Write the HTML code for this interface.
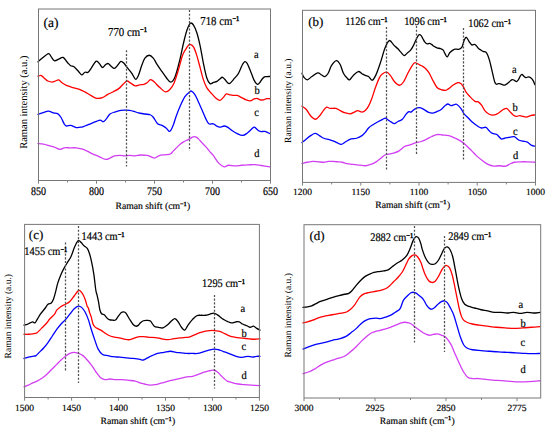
<!DOCTYPE html>
<html><head><meta charset="utf-8"><style>
html,body{margin:0;padding:0;background:#fff;}
svg{display:block;}
text{font-family:"Liberation Serif",serif;fill:#000;text-rendering:geometricPrecision;}
</style></head><body>
<svg width="550" height="431" viewBox="0 0 550 431">
<rect x="0" y="0" width="550" height="431" fill="#fff"/>

<path d="M38.00,61.80 C38.73,61.18 40.62,59.44 42.36,58.09 C44.11,56.75 47.02,53.98 48.47,53.73 C49.93,53.47 50.11,55.40 51.09,56.56 C52.07,57.73 53.09,60.27 54.36,60.71 C55.64,61.15 57.27,59.73 58.73,59.18 C60.18,58.64 61.64,56.89 63.09,57.44 C64.55,57.98 66.18,61.07 67.45,62.45 C68.73,63.84 69.64,65.00 70.73,65.73 C71.82,66.45 72.73,65.91 74.00,66.82 C75.27,67.73 77.09,69.84 78.36,71.18 C79.64,72.53 80.55,74.71 81.64,74.89 C82.73,75.07 83.82,72.71 84.91,72.27 C86.00,71.84 87.09,73.00 88.18,72.27 C89.27,71.55 90.18,69.73 91.45,67.91 C92.73,66.09 94.55,62.16 95.82,61.36 C97.09,60.56 98.00,62.09 99.09,63.11 C100.18,64.13 101.27,67.22 102.36,67.47 C103.45,67.73 104.65,65.29 105.64,64.64 C106.62,63.98 107.35,63.29 108.25,63.55 C109.16,63.80 110.07,65.36 111.09,66.16 C112.11,66.96 113.27,68.49 114.36,68.35 C115.45,68.20 116.55,66.45 117.64,65.29 C118.73,64.13 119.82,61.65 120.91,61.36 C122.00,61.07 123.09,62.45 124.18,63.55 C125.27,64.64 126.18,66.27 127.45,67.91 C128.73,69.55 130.47,71.47 131.82,73.36 C133.16,75.25 134.44,78.89 135.53,79.25 C136.62,79.62 137.35,77.80 138.36,75.55 C139.38,73.29 140.55,68.64 141.64,65.73 C142.73,62.82 143.64,59.84 144.91,58.09 C146.18,56.35 147.88,55.25 149.27,55.25 C150.67,55.25 152.06,56.71 153.27,58.09 C154.48,59.47 155.27,61.55 156.55,63.55 C157.82,65.55 159.27,67.73 160.91,70.09 C162.55,72.45 164.73,75.73 166.36,77.73 C168.00,79.73 169.27,82.27 170.73,82.09 C172.18,81.91 173.64,80.09 175.09,76.64 C176.55,73.18 178.00,67.18 179.45,61.36 C180.91,55.55 182.55,47.00 183.82,41.73 C185.09,36.45 186.00,32.82 187.09,29.73 C188.18,26.64 189.27,23.91 190.36,23.18 C191.45,22.45 192.55,23.73 193.64,25.36 C194.73,27.00 195.82,29.55 196.91,33.00 C198.00,36.45 199.09,41.00 200.18,46.09 C201.27,51.18 202.36,58.27 203.45,63.55 C204.55,68.82 205.64,74.38 206.73,77.73 C207.82,81.08 208.87,82.85 210.00,83.64 C211.13,84.44 212.32,82.87 213.48,82.48 C214.64,82.10 215.90,81.90 216.96,81.32 C218.02,80.74 218.99,79.68 219.86,79.00 C220.73,78.33 221.41,77.26 222.18,77.26 C222.95,77.26 223.73,78.23 224.50,79.00 C225.27,79.78 226.05,81.13 226.82,81.90 C227.59,82.68 228.37,83.64 229.14,83.64 C229.91,83.64 230.59,82.77 231.46,81.90 C232.33,81.03 233.30,79.68 234.36,78.42 C235.43,77.17 236.88,75.81 237.84,74.36 C238.81,72.91 239.39,71.37 240.16,69.72 C240.94,68.08 241.71,65.85 242.48,64.50 C243.26,63.15 244.03,61.79 244.80,61.60 C245.58,61.41 246.35,62.18 247.12,63.34 C247.90,64.50 248.67,66.72 249.44,68.56 C250.22,70.40 250.99,72.43 251.76,74.36 C252.54,76.30 253.31,78.62 254.08,80.16 C254.86,81.71 255.73,82.97 256.40,83.64 C257.08,84.32 257.56,84.42 258.14,84.22 C258.72,84.03 259.21,83.35 259.88,82.48 C260.56,81.61 261.43,79.93 262.20,79.00 C262.98,78.07 263.75,77.30 264.52,76.91 C265.30,76.53 265.94,76.76 266.84,76.68 C267.75,76.60 269.45,76.49 269.98,76.45" fill="none" stroke="#000" stroke-width="1.30" stroke-linejoin="round" stroke-linecap="round"/>
<path d="M38.00,76.20 C38.55,76.09 40.18,75.18 41.27,75.55 C42.36,75.91 43.45,77.47 44.55,78.38 C45.64,79.29 46.55,80.38 47.82,81.00 C49.09,81.62 50.91,82.09 52.18,82.09 C53.45,82.09 54.36,81.36 55.45,81.00 C56.55,80.64 57.64,79.62 58.73,79.91 C59.82,80.20 60.73,81.84 62.00,82.75 C63.27,83.65 64.55,84.56 66.36,85.36 C68.18,86.16 70.73,86.89 72.91,87.55 C75.09,88.20 77.45,88.56 79.45,89.29 C81.45,90.02 83.09,90.93 84.91,91.91 C86.73,92.89 88.44,94.12 90.36,95.18 C92.29,96.25 94.47,97.88 96.47,98.29 C98.47,98.70 100.47,98.29 102.36,97.64 C104.25,96.98 106.00,95.35 107.82,94.36 C109.64,93.38 111.45,92.70 113.27,91.75 C115.09,90.79 117.09,89.88 118.73,88.64 C120.36,87.39 121.71,85.55 123.09,84.27 C124.47,83.00 125.75,81.18 127.02,81.00 C128.29,80.82 129.38,82.38 130.73,83.18 C132.07,83.98 133.64,85.51 135.09,85.80 C136.55,86.09 138.00,85.18 139.45,84.93 C140.91,84.67 142.55,84.64 143.82,84.27 C145.09,83.91 146.06,83.47 147.09,82.75 C148.12,82.02 149.27,80.38 150.00,79.91 C150.73,79.44 150.73,79.55 151.45,79.91 C152.18,80.27 152.97,80.82 154.36,82.09 C155.76,83.36 158.00,85.91 159.82,87.55 C161.64,89.18 163.64,91.55 165.27,91.91 C166.91,92.27 168.18,91.18 169.64,89.73 C171.09,88.27 172.55,86.45 174.00,83.18 C175.45,79.91 176.91,74.82 178.36,70.09 C179.82,65.36 181.27,58.64 182.73,54.82 C184.18,51.00 185.89,48.93 187.09,47.18 C188.29,45.44 188.84,44.35 189.93,44.35 C191.02,44.35 192.47,45.25 193.64,47.18 C194.80,49.11 195.82,52.45 196.91,55.91 C198.00,59.36 199.09,63.91 200.18,67.91 C201.27,71.91 202.36,76.64 203.45,79.91 C204.55,83.18 205.45,85.36 206.73,87.55 C208.00,89.73 209.64,91.32 211.09,93.00 C212.55,94.68 214.00,96.39 215.45,97.64 C216.91,98.88 218.55,100.47 219.82,100.47 C221.09,100.47 222.00,98.73 223.09,97.64 C224.18,96.55 225.27,94.40 226.36,93.93 C227.45,93.45 228.55,94.55 229.64,94.80 C230.73,95.05 231.64,95.35 232.91,95.45 C234.18,95.56 235.82,95.09 237.27,95.45 C238.73,95.82 240.18,96.91 241.64,97.64 C243.09,98.36 244.55,99.27 246.00,99.82 C247.45,100.36 249.09,101.02 250.36,100.91 C251.64,100.80 252.55,99.60 253.64,99.16 C254.73,98.73 255.82,98.18 256.91,98.29 C258.00,98.40 259.09,99.56 260.18,99.82 C261.27,100.07 262.36,100.00 263.45,99.82 C264.55,99.64 265.64,98.91 266.73,98.73 C267.82,98.55 269.45,98.73 270.00,98.73" fill="none" stroke="#ff0000" stroke-width="1.30" stroke-linejoin="round" stroke-linecap="round"/>
<path d="M38.00,114.44 C38.73,114.18 40.62,113.45 42.36,112.91 C44.11,112.36 46.65,111.16 48.47,111.16 C50.29,111.16 51.75,112.51 53.27,112.91 C54.80,113.31 56.36,112.84 57.64,113.56 C58.91,114.29 59.82,115.56 60.91,117.27 C62.00,118.98 63.27,122.36 64.18,123.82 C65.09,125.27 65.27,125.75 66.36,126.00 C67.45,126.25 69.09,125.09 70.73,125.35 C72.36,125.60 74.36,127.24 76.18,127.53 C78.00,127.82 80.18,127.35 81.64,127.09 C83.09,126.84 83.45,126.55 84.91,126.00 C86.36,125.45 88.55,124.55 90.36,123.82 C92.18,123.09 94.18,122.25 95.82,121.64 C97.45,121.02 98.91,120.11 100.18,120.11 C101.45,120.11 102.36,121.93 103.45,121.64 C104.55,121.35 105.64,119.64 106.73,118.36 C107.82,117.09 108.55,115.09 110.00,114.00 C111.45,112.91 113.64,112.44 115.45,111.82 C117.27,111.20 119.27,110.58 120.91,110.29 C122.55,110.00 123.82,110.07 125.27,110.07 C126.73,110.07 128.18,110.07 129.64,110.29 C131.09,110.51 132.55,110.95 134.00,111.38 C135.45,111.82 136.55,112.47 138.36,112.91 C140.18,113.35 142.94,113.69 144.91,114.00 C146.88,114.31 148.79,114.22 150.18,114.76 C151.58,115.31 152.03,115.76 153.27,117.27 C154.52,118.78 156.18,122.47 157.64,123.82 C159.09,125.16 160.55,124.62 162.00,125.35 C163.45,126.07 165.09,127.16 166.36,128.18 C167.64,129.20 168.55,131.82 169.64,131.45 C170.73,131.09 171.82,128.55 172.91,126.00 C174.00,123.45 174.91,119.64 176.18,116.18 C177.45,112.73 179.09,108.55 180.55,105.27 C182.00,102.00 183.45,98.73 184.91,96.55 C186.36,94.36 188.18,93.09 189.27,92.18 C190.36,91.27 190.55,90.73 191.45,91.09 C192.36,91.45 193.64,92.73 194.73,94.36 C195.82,96.00 196.73,98.18 198.00,100.91 C199.27,103.64 201.09,107.82 202.36,110.73 C203.64,113.64 204.55,116.18 205.64,118.36 C206.73,120.55 207.64,122.91 208.91,123.82 C210.18,124.73 212.00,123.45 213.27,123.82 C214.55,124.18 215.45,125.45 216.55,126.00 C217.64,126.55 218.55,127.09 219.82,127.09 C221.09,127.09 222.91,126.00 224.18,126.00 C225.45,126.00 226.18,126.36 227.45,127.09 C228.73,127.82 230.18,129.27 231.82,130.36 C233.45,131.45 235.45,132.80 237.27,133.64 C239.09,134.47 241.09,135.45 242.73,135.38 C244.36,135.31 245.64,134.22 247.09,133.20 C248.55,132.18 250.25,130.29 251.45,129.27 C252.65,128.25 253.38,127.09 254.29,127.09 C255.20,127.09 255.93,128.55 256.91,129.27 C257.89,130.00 258.91,131.09 260.18,131.45 C261.45,131.82 263.27,131.27 264.55,131.45 C265.82,131.64 266.91,132.18 267.82,132.55 C268.73,132.91 269.64,133.45 270.00,133.64" fill="none" stroke="#0000ff" stroke-width="1.30" stroke-linejoin="round" stroke-linecap="round"/>
<path d="M38.00,143.45 C38.91,143.56 41.64,143.75 43.45,144.11 C45.27,144.47 47.09,145.13 48.91,145.64 C50.73,146.15 52.55,146.55 54.36,147.16 C56.18,147.78 58.18,149.24 59.82,149.35 C61.45,149.45 62.55,148.07 64.18,147.82 C65.82,147.56 67.64,147.82 69.64,147.82 C71.64,147.82 74.18,147.64 76.18,147.82 C78.18,148.00 79.82,148.36 81.64,148.91 C83.45,149.45 85.27,150.25 87.09,151.09 C88.91,151.93 90.55,153.02 92.55,153.93 C94.55,154.84 96.91,155.64 99.09,156.55 C101.27,157.45 103.82,159.13 105.64,159.38 C107.45,159.64 108.55,158.65 110.00,158.07 C111.45,157.49 112.73,156.33 114.36,155.89 C116.00,155.45 118.00,155.45 119.82,155.45 C121.64,155.45 123.64,155.89 125.27,155.89 C126.91,155.89 128.00,155.45 129.64,155.45 C131.27,155.45 133.27,155.96 135.09,155.89 C136.91,155.82 138.55,155.09 140.55,155.02 C142.55,154.95 145.52,155.24 147.09,155.45 C148.67,155.67 149.13,155.98 150.00,156.32 C150.87,156.66 151.55,157.19 152.32,157.48 C153.09,157.77 153.87,158.16 154.64,158.06 C155.41,157.97 156.19,157.31 156.96,156.90 C157.73,156.50 158.31,155.96 159.28,155.63 C160.25,155.30 161.60,155.09 162.76,154.93 C163.92,154.78 164.98,154.85 166.24,154.70 C167.50,154.54 169.14,154.60 170.30,154.00 C171.46,153.40 172.14,152.17 173.20,151.10 C174.27,150.04 175.52,148.78 176.68,147.62 C177.84,146.46 179.00,145.11 180.16,144.14 C181.32,143.17 182.48,142.50 183.64,141.82 C184.80,141.14 186.06,140.60 187.12,140.08 C188.19,139.56 189.15,139.17 190.02,138.69 C190.89,138.21 191.67,137.53 192.34,137.18 C193.02,136.83 193.41,136.60 194.08,136.60 C194.76,136.60 195.63,136.76 196.40,137.18 C197.18,137.61 197.85,138.28 198.72,139.15 C199.59,140.02 200.56,141.28 201.62,142.40 C202.69,143.52 204.04,144.72 205.10,145.88 C206.17,147.04 207.19,148.36 208.00,149.36 C208.82,150.37 209.10,150.90 209.98,151.91 C210.85,152.93 211.81,153.59 213.27,155.45 C214.73,157.32 216.91,161.20 218.73,163.09 C220.55,164.98 222.55,166.44 224.18,166.80 C225.82,167.16 226.73,165.42 228.55,165.27 C230.36,165.13 232.91,165.93 235.09,165.93 C237.27,165.93 239.45,165.45 241.64,165.27 C243.82,165.09 246.00,164.95 248.18,164.84 C250.36,164.73 252.55,164.51 254.73,164.62 C256.91,164.73 258.73,165.13 261.27,165.49 C263.82,165.85 268.55,166.58 270.00,166.80" fill="none" stroke="#d23ef2" stroke-width="1.30" stroke-linejoin="round" stroke-linecap="round"/>
<line x1="126.5" y1="50.2" x2="126.5" y2="166.4" stroke="#505050" stroke-width="1.25" stroke-dasharray="2.1,1.6"/>
<line x1="189.5" y1="10.0" x2="189.5" y2="150.7" stroke="#505050" stroke-width="1.25" stroke-dasharray="2.1,1.6"/>
<rect x="38.5" y="9.0" width="232.0" height="171.5" fill="none" stroke="#777" stroke-width="1"/>
<line x1="38.5" y1="180.5" x2="38.5" y2="183.7" stroke="#808080" stroke-width="1"/>
<text transform="translate(38.50,194.70) scale(1,1.160)" font-size="10.00" text-anchor="middle" stroke="#000" stroke-width="0.18" >850</text>
<line x1="96.5" y1="180.5" x2="96.5" y2="183.7" stroke="#808080" stroke-width="1"/>
<text transform="translate(96.50,194.70) scale(1,1.160)" font-size="10.00" text-anchor="middle" stroke="#000" stroke-width="0.18" >800</text>
<line x1="154.5" y1="180.5" x2="154.5" y2="183.7" stroke="#808080" stroke-width="1"/>
<text transform="translate(154.50,194.70) scale(1,1.160)" font-size="10.00" text-anchor="middle" stroke="#000" stroke-width="0.18" >750</text>
<line x1="212.5" y1="180.5" x2="212.5" y2="183.7" stroke="#808080" stroke-width="1"/>
<text transform="translate(212.50,194.70) scale(1,1.160)" font-size="10.00" text-anchor="middle" stroke="#000" stroke-width="0.18" >700</text>
<line x1="270.5" y1="180.5" x2="270.5" y2="183.7" stroke="#808080" stroke-width="1"/>
<text transform="translate(270.50,194.70) scale(1,1.160)" font-size="10.00" text-anchor="middle" stroke="#000" stroke-width="0.18" >650</text>
<line x1="67.5" y1="180.5" x2="67.5" y2="182.5" stroke="#808080" stroke-width="1"/>
<line x1="125.5" y1="180.5" x2="125.5" y2="182.5" stroke="#808080" stroke-width="1"/>
<line x1="183.5" y1="180.5" x2="183.5" y2="182.5" stroke="#808080" stroke-width="1"/>
<line x1="241.5" y1="180.5" x2="241.5" y2="182.5" stroke="#808080" stroke-width="1"/>
<text transform="translate(152.90,209.40) scale(1,1.000)" font-size="9.70" text-anchor="middle" stroke="#000" stroke-width="0.18" >Raman shift (cm<tspan font-size="6.3" dy="-3.7" stroke-width="0.4">&#8722;1</tspan><tspan dy="3.7" dx="0.4">)</tspan></text>
<text transform="translate(24.4,102.2) rotate(-90)" font-size="10.5" text-anchor="middle" dominant-baseline="central" fill="#222">Raman intensity (a.u.)</text>
<text transform="translate(43.50,26.50) scale(1,1.000)" font-size="13.50" text-anchor="start" stroke="#000" stroke-width="0.18" >(a)</text>
<text transform="translate(108.00,36.00) scale(1,1.120)" font-size="10.80" text-anchor="start" stroke="#000" stroke-width="0.18" >770 cm<tspan font-size="6.5" dy="-3.30" stroke-width="0.4">&#8722;1</tspan></text>
<text transform="translate(200.30,25.00) scale(1,1.120)" font-size="10.80" text-anchor="start" stroke="#000" stroke-width="0.18" >718 cm<tspan font-size="6.5" dy="-3.30" stroke-width="0.4">&#8722;1</tspan></text>
<text transform="translate(253.90,57.80) scale(1,1.080)" font-size="10.50" text-anchor="start" stroke="#000" stroke-width="0.18" >a</text>
<text transform="translate(254.60,94.10) scale(1,1.080)" font-size="10.50" text-anchor="start" stroke="#000" stroke-width="0.18" >b</text>
<text transform="translate(254.30,115.50) scale(1,1.080)" font-size="10.50" text-anchor="start" stroke="#000" stroke-width="0.18" >c</text>
<text transform="translate(254.30,157.00) scale(1,1.080)" font-size="10.50" text-anchor="start" stroke="#000" stroke-width="0.18" >d</text>
<path d="M302.00,73.27 C302.36,74.00 303.27,76.55 304.18,77.64 C305.09,78.73 306.18,80.00 307.45,79.82 C308.73,79.64 310.11,77.71 311.82,76.55 C313.53,75.38 316.07,73.09 317.71,72.84 C319.35,72.58 320.44,74.40 321.64,75.02 C322.84,75.64 323.82,76.84 324.91,76.55 C326.00,76.25 327.09,75.09 328.18,73.27 C329.27,71.45 330.07,67.75 331.45,65.64 C332.84,63.53 335.02,60.80 336.47,60.62 C337.93,60.44 339.02,62.44 340.18,64.55 C341.35,66.65 342.36,71.09 343.45,73.27 C344.55,75.45 345.71,76.55 346.73,77.64 C347.75,78.73 348.47,80.18 349.56,79.82 C350.65,79.45 351.82,76.84 353.27,75.45 C354.73,74.07 356.84,71.82 358.29,71.53 C359.75,71.24 360.84,73.05 362.00,73.71 C363.16,74.36 364.18,74.98 365.27,75.45 C366.36,75.93 367.38,75.75 368.55,76.55 C369.71,77.35 370.98,80.62 372.25,80.25 C373.53,79.89 374.80,77.35 376.18,74.36 C377.56,71.38 379.09,66.73 380.55,62.36 C382.00,58.00 383.45,51.82 384.91,48.18 C386.36,44.55 387.82,41.09 389.27,40.55 C390.73,40.00 392.68,43.95 393.64,44.91 C394.59,45.87 394.29,45.67 395.00,46.31 C395.71,46.95 396.95,47.77 397.92,48.75 C398.90,49.72 399.79,51.02 400.85,52.16 C401.90,53.29 403.20,55.41 404.26,55.57 C405.31,55.73 406.13,54.03 407.18,53.13 C408.24,52.24 409.54,51.51 410.59,50.21 C411.65,48.91 412.62,47.04 413.52,45.34 C414.41,43.63 415.22,41.52 415.95,39.98 C416.68,38.43 417.33,36.97 417.90,36.08 C418.47,35.19 418.83,34.70 419.36,34.62 C419.90,34.54 420.55,34.94 421.12,35.59 C421.68,36.24 422.17,37.46 422.77,38.52 C423.37,39.57 423.99,41.03 424.72,41.93 C425.45,42.82 426.35,43.63 427.16,43.87 C427.97,44.12 428.86,43.31 429.59,43.39 C430.32,43.47 430.81,43.87 431.54,44.36 C432.27,44.85 433.09,45.74 433.98,46.31 C434.87,46.88 435.77,47.37 436.90,47.77 C438.04,48.18 439.74,48.34 440.80,48.75 C441.86,49.15 442.49,49.30 443.24,50.21 C443.98,51.11 444.59,53.06 445.27,54.17 C445.94,55.29 446.52,57.18 447.29,56.91 C448.06,56.64 448.75,53.82 449.91,52.55 C451.07,51.27 452.82,49.82 454.27,49.27 C455.73,48.73 457.36,49.64 458.64,49.27 C459.91,48.91 461.00,48.55 461.91,47.09 C462.82,45.64 463.36,42.18 464.09,40.55 C464.82,38.91 465.44,37.09 466.27,37.27 C467.11,37.45 468.20,40.36 469.11,41.64 C470.02,42.91 470.75,44.44 471.73,44.91 C472.71,45.38 473.91,43.93 475.00,44.47 C476.09,45.02 477.31,47.26 478.27,48.18 C479.24,49.10 479.99,49.46 480.80,50.00 C481.61,50.54 482.25,51.01 483.12,51.39 C483.99,51.78 485.25,51.68 486.02,52.32 C486.79,52.96 487.18,53.87 487.76,55.22 C488.34,56.57 488.92,58.41 489.50,60.44 C490.08,62.47 490.66,64.98 491.24,67.40 C491.82,69.82 492.40,72.53 492.98,74.94 C493.56,77.36 494.14,80.36 494.72,81.90 C495.30,83.45 495.88,83.93 496.46,84.22 C497.04,84.51 497.53,83.70 498.20,83.64 C498.88,83.58 499.75,83.68 500.52,83.87 C501.30,84.07 502.11,84.61 502.84,84.80 C503.58,85.00 504.25,85.19 504.93,85.03 C505.61,84.88 506.19,84.40 506.90,83.87 C507.62,83.35 508.35,82.62 509.22,81.90 C510.09,81.19 511.25,79.83 512.12,79.58 C512.99,79.33 513.71,80.07 514.44,80.39 C515.18,80.72 515.85,81.69 516.53,81.55 C517.21,81.42 517.88,80.49 518.50,79.58 C519.12,78.67 519.66,76.97 520.24,76.10 C520.82,75.23 521.40,74.36 521.98,74.36 C522.56,74.36 523.05,75.56 523.72,76.10 C524.40,76.64 525.27,77.47 526.04,77.61 C526.82,77.75 527.59,76.88 528.36,76.91 C529.14,76.95 529.91,77.26 530.68,77.84 C531.46,78.42 532.29,79.23 533.00,80.39 C533.72,81.55 534.65,84.07 534.98,84.80" fill="none" stroke="#000" stroke-width="1.30" stroke-linejoin="round" stroke-linecap="round"/>
<path d="M302.00,106.18 C302.73,106.73 304.91,107.82 306.36,109.45 C307.82,111.09 309.20,114.36 310.73,116.00 C312.25,117.64 314.07,119.27 315.53,119.27 C316.98,119.27 318.15,117.45 319.45,116.00 C320.76,114.55 322.22,112.00 323.38,110.55 C324.55,109.09 325.27,107.64 326.44,107.27 C327.60,106.91 328.80,108.18 330.36,108.36 C331.93,108.55 334.18,108.00 335.82,108.36 C337.45,108.73 338.73,109.82 340.18,110.55 C341.64,111.27 342.91,112.18 344.55,112.73 C346.18,113.27 348.36,113.93 350.00,113.82 C351.64,113.71 353.09,112.62 354.36,112.07 C355.64,111.53 356.36,110.55 357.64,110.55 C358.91,110.55 360.73,112.07 362.00,112.07 C363.27,112.07 364.18,111.53 365.27,110.55 C366.36,109.56 367.45,108.18 368.55,106.18 C369.64,104.18 370.73,101.48 371.82,98.55 C372.91,95.61 373.82,92.03 375.09,88.55 C376.36,85.06 378.18,80.11 379.45,77.64 C380.73,75.16 381.53,74.62 382.73,73.71 C383.93,72.80 385.38,71.89 386.65,72.18 C387.93,72.47 389.02,73.82 390.36,75.45 C391.71,77.09 393.20,80.36 394.73,82.00 C396.25,83.64 398.07,85.27 399.53,85.27 C400.98,85.27 402.07,84.00 403.45,82.00 C404.84,80.00 406.36,76.00 407.82,73.27 C409.27,70.55 410.98,67.43 412.18,65.64 C413.38,63.85 413.76,62.67 415.00,62.54 C416.24,62.41 418.29,64.18 419.64,64.86 C420.99,65.54 422.06,65.92 423.12,66.60 C424.18,67.28 425.15,68.05 426.02,68.92 C426.89,69.79 427.66,70.85 428.34,71.82 C429.02,72.79 429.21,73.08 430.08,74.72 C430.95,76.37 432.40,79.56 433.56,81.68 C434.72,83.81 435.78,86.17 437.04,87.48 C438.30,88.80 439.65,89.09 441.10,89.57 C442.55,90.05 444.49,90.54 445.74,90.38 C447.00,90.23 447.39,89.55 448.64,88.64 C449.90,87.73 451.74,85.94 453.28,84.93 C454.83,83.92 456.67,82.86 457.92,82.61 C459.18,82.36 459.95,82.80 460.82,83.42 C461.69,84.04 462.27,84.87 463.14,86.32 C464.01,87.77 464.98,90.48 466.04,92.12 C467.11,93.77 468.04,94.64 469.52,96.18 C471.01,97.73 473.52,100.46 474.98,101.40 C476.43,102.34 477.18,101.20 478.27,101.82 C479.37,102.43 480.45,103.64 481.55,105.09 C482.64,106.55 483.55,109.02 484.82,110.55 C486.09,112.07 487.55,113.53 489.18,114.25 C490.82,114.98 493.00,115.16 494.64,114.91 C496.27,114.65 497.55,113.64 499.00,112.73 C500.45,111.82 502.09,110.18 503.36,109.45 C504.64,108.73 505.55,108.00 506.64,108.36 C507.73,108.73 508.82,110.55 509.91,111.64 C511.00,112.73 512.09,114.11 513.18,114.91 C514.27,115.71 515.36,116.33 516.45,116.44 C517.55,116.55 518.64,115.56 519.73,115.56 C520.82,115.56 521.91,116.18 523.00,116.44 C524.09,116.69 525.00,117.24 526.27,117.09 C527.55,116.95 529.18,115.93 530.64,115.56 C532.09,115.20 534.27,115.02 535.00,114.91" fill="none" stroke="#ff0000" stroke-width="1.30" stroke-linejoin="round" stroke-linecap="round"/>
<path d="M302.00,142.62 C302.73,142.00 304.91,140.07 306.36,138.91 C307.82,137.75 309.27,136.55 310.73,135.64 C312.18,134.73 313.64,133.45 315.09,133.45 C316.55,133.45 318.00,134.84 319.45,135.64 C320.91,136.44 322.18,137.60 323.82,138.25 C325.45,138.91 327.64,139.09 329.27,139.56 C330.91,140.04 332.36,140.58 333.64,141.09 C334.91,141.60 335.64,142.07 336.91,142.62 C338.18,143.16 339.82,144.51 341.27,144.36 C342.73,144.22 344.00,142.65 345.64,141.75 C347.27,140.84 349.27,139.49 351.09,138.91 C352.91,138.33 354.73,138.80 356.55,138.25 C358.36,137.71 360.55,136.62 362.00,135.64 C363.45,134.65 364.18,133.64 365.27,132.36 C366.36,131.09 367.27,129.27 368.55,128.00 C369.82,126.73 371.27,125.82 372.91,124.73 C374.55,123.64 376.73,122.36 378.36,121.45 C380.00,120.55 381.56,119.82 382.73,119.27 C383.89,118.73 384.44,118.07 385.35,118.18 C386.25,118.29 387.16,119.27 388.18,119.93 C389.20,120.58 390.44,121.49 391.45,122.11 C392.47,122.73 393.20,123.75 394.29,123.64 C395.38,123.53 396.65,122.18 398.00,121.45 C399.35,120.73 400.98,120.55 402.36,119.27 C403.75,118.00 405.20,115.09 406.29,113.82 C407.38,112.55 408.11,111.93 408.91,111.64 C409.71,111.35 410.13,112.49 411.09,112.07 C412.05,111.65 413.30,109.85 414.68,109.13 C416.06,108.40 417.86,107.65 419.36,107.71 C420.87,107.76 422.27,108.73 423.73,109.45 C425.18,110.18 426.64,111.45 428.09,112.07 C429.55,112.69 431.00,113.24 432.45,113.16 C433.91,113.09 435.36,112.25 436.82,111.64 C438.27,111.02 439.91,110.36 441.18,109.45 C442.45,108.55 443.36,107.09 444.45,106.18 C445.55,105.27 446.64,104.11 447.73,104.00 C448.82,103.89 449.91,105.42 451.00,105.53 C452.09,105.64 453.29,104.84 454.27,104.65 C455.25,104.47 455.80,103.82 456.89,104.44 C457.98,105.05 459.62,106.80 460.82,108.36 C462.02,109.93 462.82,112.18 464.09,113.82 C465.36,115.45 467.00,116.73 468.45,118.18 C469.91,119.64 471.36,121.27 472.82,122.55 C474.27,123.82 475.73,124.91 477.18,125.82 C478.64,126.73 480.09,127.75 481.55,128.00 C483.00,128.25 484.64,126.87 485.91,127.35 C487.18,127.82 488.09,129.82 489.18,130.84 C490.27,131.85 491.18,132.84 492.45,133.45 C493.73,134.07 495.36,133.64 496.82,134.55 C498.27,135.45 499.91,138.29 501.18,138.91 C502.45,139.53 503.18,138.51 504.45,138.25 C505.73,138.00 507.18,137.64 508.82,137.38 C510.45,137.13 512.64,136.29 514.27,136.73 C515.91,137.16 517.18,139.27 518.64,140.00 C520.09,140.73 521.55,140.73 523.00,141.09 C524.45,141.45 525.91,141.45 527.36,142.18 C528.82,142.91 530.45,144.80 531.73,145.45 C533.00,146.11 534.45,146.00 535.00,146.11" fill="none" stroke="#0000ff" stroke-width="1.30" stroke-linejoin="round" stroke-linecap="round"/>
<path d="M302.00,163.56 C302.91,163.35 305.64,162.62 307.45,162.25 C309.27,161.89 311.09,161.45 312.91,161.38 C314.73,161.31 316.55,161.67 318.36,161.82 C320.18,161.96 322.18,162.33 323.82,162.25 C325.45,162.18 326.73,161.53 328.18,161.38 C329.64,161.24 330.91,161.31 332.55,161.38 C334.18,161.45 336.36,161.67 338.00,161.82 C339.64,161.96 340.91,161.96 342.36,162.25 C343.82,162.55 344.91,163.20 346.73,163.56 C348.55,163.93 351.09,164.18 353.27,164.44 C355.45,164.69 357.82,164.87 359.82,165.09 C361.82,165.31 363.45,165.85 365.27,165.75 C367.09,165.64 368.91,165.09 370.73,164.44 C372.55,163.78 374.55,162.80 376.18,161.82 C377.82,160.84 379.16,159.64 380.55,158.55 C381.93,157.45 383.20,156.00 384.47,155.27 C385.75,154.55 386.65,154.55 388.18,154.18 C389.71,153.82 391.82,153.64 393.64,153.09 C395.45,152.55 397.27,152.00 399.09,150.91 C400.91,149.82 402.73,147.56 404.55,146.55 C406.36,145.53 408.22,145.40 410.00,144.80 C411.78,144.20 413.48,143.45 415.23,142.95 C416.97,142.44 418.67,142.31 420.45,141.75 C422.23,141.18 424.09,140.40 425.91,139.56 C427.73,138.73 429.55,137.56 431.36,136.73 C433.18,135.89 435.00,134.84 436.82,134.55 C438.64,134.25 440.27,134.80 442.27,134.98 C444.27,135.16 446.64,135.09 448.82,135.64 C451.00,136.18 453.36,137.35 455.36,138.25 C457.36,139.16 459.00,139.89 460.82,141.09 C462.64,142.29 464.45,143.82 466.27,145.45 C468.09,147.09 469.91,149.09 471.73,150.91 C473.55,152.73 475.36,154.73 477.18,156.36 C479.00,158.00 480.82,159.38 482.64,160.73 C484.45,162.07 486.27,163.53 488.09,164.44 C489.91,165.35 491.73,165.96 493.55,166.18 C495.36,166.40 497.00,165.75 499.00,165.75 C501.00,165.75 503.73,166.47 505.55,166.18 C507.36,165.89 508.45,164.65 509.91,164.00 C511.36,163.35 512.45,162.62 514.27,162.25 C516.09,161.89 518.64,161.89 520.82,161.82 C523.00,161.75 525.00,161.75 527.36,161.82 C529.73,161.89 533.73,162.18 535.00,162.25" fill="none" stroke="#d23ef2" stroke-width="1.30" stroke-linejoin="round" stroke-linecap="round"/>
<line x1="386.5" y1="27.0" x2="386.5" y2="169.5" stroke="#505050" stroke-width="1.25" stroke-dasharray="2.1,1.6"/>
<line x1="416.5" y1="26.0" x2="416.5" y2="155.3" stroke="#505050" stroke-width="1.25" stroke-dasharray="2.1,1.6"/>
<line x1="463.5" y1="28.0" x2="463.5" y2="159.6" stroke="#505050" stroke-width="1.25" stroke-dasharray="2.1,1.6"/>
<rect x="302.5" y="10.3" width="233.0" height="172.1" fill="none" stroke="#777" stroke-width="1"/>
<line x1="302.5" y1="182.4" x2="302.5" y2="185.6" stroke="#808080" stroke-width="1"/>
<text transform="translate(302.50,195.10) scale(1,1.000)" font-size="9.50" text-anchor="middle" stroke="#000" stroke-width="0.18" >1200</text>
<line x1="360.8" y1="182.4" x2="360.8" y2="185.6" stroke="#808080" stroke-width="1"/>
<text transform="translate(360.75,195.10) scale(1,1.000)" font-size="9.50" text-anchor="middle" stroke="#000" stroke-width="0.18" >1150</text>
<line x1="419.0" y1="182.4" x2="419.0" y2="185.6" stroke="#808080" stroke-width="1"/>
<text transform="translate(419.00,195.10) scale(1,1.000)" font-size="9.50" text-anchor="middle" stroke="#000" stroke-width="0.18" >1100</text>
<line x1="477.2" y1="182.4" x2="477.2" y2="185.6" stroke="#808080" stroke-width="1"/>
<text transform="translate(477.25,195.10) scale(1,1.000)" font-size="9.50" text-anchor="middle" stroke="#000" stroke-width="0.18" >1050</text>
<line x1="535.5" y1="182.4" x2="535.5" y2="185.6" stroke="#808080" stroke-width="1"/>
<text transform="translate(535.50,195.10) scale(1,1.000)" font-size="9.50" text-anchor="middle" stroke="#000" stroke-width="0.18" >1000</text>
<line x1="331.6" y1="182.4" x2="331.6" y2="184.4" stroke="#808080" stroke-width="1"/>
<line x1="389.9" y1="182.4" x2="389.9" y2="184.4" stroke="#808080" stroke-width="1"/>
<line x1="448.1" y1="182.4" x2="448.1" y2="184.4" stroke="#808080" stroke-width="1"/>
<line x1="506.4" y1="182.4" x2="506.4" y2="184.4" stroke="#808080" stroke-width="1"/>
<text transform="translate(412.70,207.90) scale(1,1.000)" font-size="9.70" text-anchor="middle" stroke="#000" stroke-width="0.18" >Raman shift (cm<tspan font-size="6.3" dy="-3.7" stroke-width="0.4">&#8722;1</tspan><tspan dy="3.7" dx="0.4">)</tspan></text>
<text transform="translate(289.4,100.7) rotate(-90)" font-size="9.5" text-anchor="middle" dominant-baseline="central" fill="#222">Raman intensity (a.u.)</text>
<text transform="translate(308.20,25.70) scale(1,1.000)" font-size="13.00" text-anchor="start" stroke="#000" stroke-width="0.18" >(b)</text>
<text transform="translate(345.30,25.40) scale(1,1.120)" font-size="10.30" text-anchor="start" stroke="#000" stroke-width="0.18" >1126 cm<tspan font-size="6.5" dy="-2.97" stroke-width="0.4">&#8722;1</tspan></text>
<text transform="translate(404.20,25.40) scale(1,1.120)" font-size="10.30" text-anchor="start" stroke="#000" stroke-width="0.18" >1096 cm<tspan font-size="6.5" dy="-2.97" stroke-width="0.4">&#8722;1</tspan></text>
<text transform="translate(468.30,27.20) scale(1,1.120)" font-size="10.30" text-anchor="start" stroke="#000" stroke-width="0.18" >1062 cm<tspan font-size="6.5" dy="-2.97" stroke-width="0.4">&#8722;1</tspan></text>
<text transform="translate(512.00,72.50) scale(1,1.080)" font-size="10.50" text-anchor="start" stroke="#000" stroke-width="0.18" >a</text>
<text transform="translate(512.60,110.50) scale(1,1.080)" font-size="10.50" text-anchor="start" stroke="#000" stroke-width="0.18" >b</text>
<text transform="translate(513.00,135.00) scale(1,1.080)" font-size="10.50" text-anchor="start" stroke="#000" stroke-width="0.18" >c</text>
<text transform="translate(513.00,158.50) scale(1,1.080)" font-size="10.50" text-anchor="start" stroke="#000" stroke-width="0.18" >d</text>
<path d="M24.00,325.09 C24.55,324.98 26.25,324.80 27.27,324.44 C28.29,324.07 29.20,323.35 30.11,322.91 C31.02,322.47 31.93,321.82 32.73,321.82 C33.53,321.82 34.18,323.27 34.91,322.91 C35.64,322.55 36.18,321.09 37.09,319.64 C38.00,318.18 39.09,316.00 40.36,314.18 C41.64,312.36 43.45,310.37 44.73,308.73 C46.00,307.08 46.91,305.28 48.00,304.33 C49.09,303.37 50.36,303.82 51.27,302.98 C52.18,302.14 52.73,301.16 53.45,299.27 C54.18,297.38 54.91,294.36 55.64,291.64 C56.36,288.91 56.91,285.82 57.82,282.91 C58.73,280.00 60.00,276.73 61.09,274.18 C62.18,271.64 63.27,269.64 64.36,267.64 C65.45,265.64 66.55,264.00 67.64,262.18 C68.73,260.36 69.82,259.09 70.91,256.73 C72.00,254.36 73.27,250.25 74.18,248.00 C75.09,245.75 75.64,244.47 76.36,243.20 C77.09,241.93 77.75,240.47 78.55,240.36 C79.35,240.25 80.25,241.64 81.16,242.55 C82.07,243.45 82.98,244.84 84.00,245.82 C85.02,246.80 86.36,247.16 87.27,248.44 C88.18,249.71 88.73,251.16 89.45,253.45 C90.18,255.75 90.91,258.73 91.64,262.18 C92.36,265.64 93.12,269.55 93.82,274.18 C94.51,278.82 95.28,286.59 95.80,290.00 C96.32,293.41 96.50,292.61 96.96,294.64 C97.42,296.67 98.10,299.67 98.58,302.18 C99.07,304.69 99.36,307.79 99.86,309.72 C100.36,311.66 100.83,312.91 101.60,313.78 C102.37,314.65 103.63,314.27 104.50,314.94 C105.37,315.62 106.05,317.07 106.82,317.84 C107.59,318.62 108.17,319.20 109.14,319.58 C110.11,319.97 111.56,320.10 112.62,320.16 C113.69,320.22 114.56,320.61 115.52,319.93 C116.49,319.25 117.46,317.32 118.42,316.10 C119.39,314.88 120.45,313.34 121.32,312.62 C122.19,311.91 122.87,311.71 123.64,311.81 C124.42,311.91 125.00,312.00 125.96,313.20 C126.93,314.40 128.28,317.17 129.44,319.00 C130.60,320.84 131.86,323.02 132.92,324.22 C133.99,325.42 134.95,326.00 135.82,326.19 C136.69,326.39 137.37,325.96 138.14,325.38 C138.92,324.80 139.59,323.49 140.46,322.71 C141.33,321.94 142.30,321.13 143.36,320.74 C144.43,320.36 145.66,320.33 146.84,320.39 C148.02,320.46 149.22,320.14 150.44,321.11 C151.67,322.07 152.83,325.15 154.18,326.18 C155.53,327.21 157.09,326.98 158.55,327.27 C160.00,327.56 161.45,328.29 162.91,327.93 C164.36,327.56 165.82,326.29 167.27,325.09 C168.73,323.89 170.36,321.82 171.64,320.73 C172.91,319.64 173.82,318.36 174.91,318.55 C176.00,318.73 177.09,320.36 178.18,321.82 C179.27,323.27 180.36,325.89 181.45,327.27 C182.55,328.65 183.64,330.47 184.73,330.11 C185.82,329.75 186.73,326.84 188.00,325.09 C189.27,323.35 190.91,321.20 192.36,319.64 C193.82,318.07 195.27,316.44 196.73,315.71 C198.18,314.98 199.64,315.35 201.09,315.27 C202.55,315.20 204.00,315.45 205.45,315.27 C206.91,315.09 208.44,314.55 209.82,314.18 C211.20,313.82 212.47,312.98 213.75,313.09 C215.02,313.20 216.29,314.11 217.45,314.84 C218.62,315.56 219.64,316.65 220.73,317.45 C221.82,318.25 222.91,318.98 224.00,319.64 C225.09,320.29 226.00,320.84 227.27,321.38 C228.55,321.93 230.18,322.84 231.64,322.91 C233.09,322.98 234.73,322.00 236.00,321.82 C237.27,321.64 238.18,321.45 239.27,321.82 C240.36,322.18 241.27,323.35 242.55,324.00 C243.82,324.65 245.64,325.20 246.91,325.75 C248.18,326.29 249.09,327.20 250.18,327.27 C251.27,327.35 252.36,326.00 253.45,326.18 C254.55,326.36 255.64,327.71 256.73,328.36 C257.82,329.02 259.45,329.82 260.00,330.11" fill="none" stroke="#000" stroke-width="1.30" stroke-linejoin="round" stroke-linecap="round"/>
<path d="M24.00,334.25 C24.73,334.25 26.91,334.33 28.36,334.25 C29.82,334.18 31.27,334.07 32.73,333.82 C34.18,333.56 35.64,333.64 37.09,332.73 C38.55,331.82 40.00,329.82 41.45,328.36 C42.91,326.91 44.36,325.64 45.82,324.00 C47.27,322.36 48.73,320.18 50.18,318.55 C51.64,316.91 53.45,315.58 54.55,314.18 C55.64,312.79 55.64,311.47 56.73,310.18 C57.82,308.90 59.64,307.45 61.09,306.47 C62.55,305.49 64.00,305.13 65.45,304.29 C66.91,303.45 68.36,302.84 69.82,301.45 C71.27,300.07 72.73,297.82 74.18,296.00 C75.64,294.18 77.27,291.09 78.55,290.55 C79.82,290.00 80.73,291.27 81.82,292.73 C82.91,294.18 84.18,296.97 85.09,299.27 C86.00,301.58 86.73,305.09 87.27,306.55 C87.82,308.00 87.95,306.95 88.36,308.00 C88.77,309.05 89.26,311.41 89.73,312.86 C90.19,314.30 90.63,314.88 91.16,316.68 C91.69,318.48 92.22,321.90 92.90,323.64 C93.58,325.38 94.35,326.25 95.22,327.12 C96.09,327.99 97.06,328.28 98.12,328.86 C99.18,329.44 100.54,329.97 101.60,330.60 C102.66,331.24 103.34,331.92 104.50,332.69 C105.66,333.46 107.11,334.53 108.56,335.24 C110.01,335.96 111.66,336.60 113.20,336.98 C114.75,337.37 116.30,337.27 117.84,337.56 C119.39,337.85 120.94,338.38 122.48,338.72 C124.03,339.07 125.87,339.50 127.12,339.65 C128.38,339.81 129.06,339.81 130.02,339.65 C130.99,339.50 131.86,339.11 132.92,338.72 C133.99,338.34 135.24,337.68 136.40,337.33 C137.56,336.98 138.72,336.75 139.88,336.64 C141.04,336.52 142.20,336.58 143.36,336.64 C144.52,336.69 145.74,336.87 146.84,336.98 C147.95,337.10 148.57,337.24 149.98,337.33 C151.38,337.42 153.30,337.28 155.27,337.53 C157.25,337.78 159.64,338.47 161.82,338.84 C164.00,339.20 166.55,339.71 168.36,339.71 C170.18,339.71 171.09,339.09 172.73,338.84 C174.36,338.58 176.36,338.40 178.18,338.18 C180.00,337.96 181.82,337.71 183.64,337.53 C185.45,337.35 187.27,337.53 189.09,337.09 C190.91,336.65 192.73,335.64 194.55,334.91 C196.36,334.18 198.18,333.35 200.00,332.73 C201.82,332.11 203.82,331.56 205.45,331.20 C207.09,330.84 208.36,330.65 209.82,330.55 C211.27,330.44 212.73,330.44 214.18,330.55 C215.64,330.65 217.09,330.84 218.55,331.20 C220.00,331.56 221.45,332.11 222.91,332.73 C224.36,333.35 225.82,334.25 227.27,334.91 C228.73,335.56 230.00,336.22 231.64,336.65 C233.27,337.09 235.27,337.27 237.09,337.53 C238.91,337.78 240.55,337.96 242.55,338.18 C244.55,338.40 247.09,338.65 249.09,338.84 C251.09,339.02 252.73,339.27 254.55,339.27 C256.36,339.27 259.09,338.91 260.00,338.84" fill="none" stroke="#ff0000" stroke-width="1.30" stroke-linejoin="round" stroke-linecap="round"/>
<path d="M24.00,358.47 C24.73,358.25 26.91,357.53 28.36,357.16 C29.82,356.80 31.45,356.55 32.73,356.29 C34.00,356.04 34.91,356.29 36.00,355.64 C37.09,354.98 38.00,353.64 39.27,352.36 C40.55,351.09 42.18,349.64 43.64,348.00 C45.09,346.36 46.55,344.55 48.00,342.55 C49.45,340.55 50.91,338.18 52.36,336.00 C53.82,333.82 55.27,331.45 56.73,329.45 C58.18,327.45 59.64,325.64 61.09,324.00 C62.55,322.36 64.00,321.27 65.45,319.64 C66.91,318.00 68.36,316.00 69.82,314.18 C71.27,312.36 72.73,310.07 74.18,308.73 C75.64,307.38 77.27,306.29 78.55,306.11 C79.82,305.93 80.73,306.65 81.82,307.64 C82.91,308.62 84.00,310.00 85.09,312.00 C86.18,314.00 87.27,316.55 88.36,319.64 C89.45,322.73 90.55,327.09 91.64,330.55 C92.73,334.00 93.82,337.27 94.91,340.36 C96.00,343.45 96.91,346.73 98.18,349.09 C99.45,351.45 100.91,353.45 102.55,354.55 C104.18,355.64 106.18,355.27 108.00,355.64 C109.82,356.00 111.45,356.47 113.45,356.73 C115.45,356.98 117.82,356.98 120.00,357.16 C122.18,357.35 124.36,357.60 126.55,357.82 C128.73,358.04 130.85,358.22 133.09,358.47 C135.33,358.73 138.30,359.09 140.00,359.35 C141.70,359.60 142.00,360.25 143.27,360.00 C144.55,359.75 146.18,358.55 147.64,357.82 C149.09,357.09 150.36,356.36 152.00,355.64 C153.64,354.91 155.45,354.00 157.45,353.45 C159.45,352.91 161.82,352.73 164.00,352.36 C166.18,352.00 168.55,351.27 170.55,351.27 C172.55,351.27 174.18,352.11 176.00,352.36 C177.82,352.62 179.64,352.62 181.45,352.80 C183.27,352.98 185.09,353.35 186.91,353.45 C188.73,353.56 190.55,353.45 192.36,353.45 C194.18,353.45 196.00,353.71 197.82,353.45 C199.64,353.20 201.45,352.47 203.27,351.93 C205.09,351.38 206.91,350.65 208.73,350.18 C210.55,349.71 212.55,349.16 214.18,349.09 C215.82,349.02 217.09,349.38 218.55,349.75 C220.00,350.11 221.45,350.76 222.91,351.27 C224.36,351.78 225.82,352.25 227.27,352.80 C228.73,353.35 230.18,353.96 231.64,354.55 C233.09,355.13 234.73,355.85 236.00,356.29 C237.27,356.73 238.00,357.02 239.27,357.16 C240.55,357.31 242.18,357.31 243.64,357.16 C245.09,357.02 246.55,356.29 248.00,356.29 C249.45,356.29 250.91,357.16 252.36,357.16 C253.82,357.16 255.45,356.44 256.73,356.29 C258.00,356.15 259.45,356.29 260.00,356.29" fill="none" stroke="#0000ff" stroke-width="1.30" stroke-linejoin="round" stroke-linecap="round"/>
<path d="M24.00,386.84 C24.73,386.55 26.91,385.75 28.36,385.09 C29.82,384.44 31.27,383.56 32.73,382.91 C34.18,382.25 35.64,381.89 37.09,381.16 C38.55,380.44 40.00,379.53 41.45,378.55 C42.91,377.56 44.18,376.73 45.82,375.27 C47.45,373.82 49.45,371.64 51.27,369.82 C53.09,368.00 55.09,366.00 56.73,364.36 C58.36,362.73 59.64,361.35 61.09,360.00 C62.55,358.65 64.00,357.38 65.45,356.29 C66.91,355.20 68.36,354.11 69.82,353.45 C71.27,352.80 72.73,352.36 74.18,352.36 C75.64,352.36 77.09,352.91 78.55,353.45 C80.00,354.00 81.45,354.55 82.91,355.64 C84.36,356.73 85.82,358.36 87.27,360.00 C88.73,361.64 90.18,363.45 91.64,365.45 C93.09,367.45 94.55,370.00 96.00,372.00 C97.45,374.00 98.91,376.18 100.36,377.45 C101.82,378.73 103.09,379.38 104.73,379.64 C106.36,379.89 108.36,378.98 110.18,378.98 C112.00,378.98 113.64,379.53 115.64,379.64 C117.64,379.75 120.00,379.53 122.18,379.64 C124.36,379.75 126.55,380.04 128.73,380.29 C130.91,380.55 133.39,380.73 135.27,381.16 C137.15,381.60 138.48,382.44 140.00,382.91 C141.52,383.38 142.73,383.64 144.36,384.00 C146.00,384.36 148.00,384.98 149.82,385.09 C151.64,385.20 153.27,385.02 155.27,384.65 C157.27,384.29 159.64,383.49 161.82,382.91 C164.00,382.33 166.18,381.71 168.36,381.16 C170.55,380.62 172.73,380.15 174.91,379.64 C177.09,379.13 179.45,378.58 181.45,378.11 C183.45,377.64 185.09,377.09 186.91,376.80 C188.73,376.51 190.55,376.73 192.36,376.36 C194.18,376.00 196.00,375.27 197.82,374.62 C199.64,373.96 201.45,373.05 203.27,372.44 C205.09,371.82 206.98,371.27 208.73,370.91 C210.47,370.55 212.29,370.07 213.75,370.25 C215.20,370.44 216.29,371.16 217.45,372.00 C218.62,372.84 219.64,374.18 220.73,375.27 C221.82,376.36 222.91,377.56 224.00,378.55 C225.09,379.53 226.00,380.51 227.27,381.16 C228.55,381.82 229.82,382.00 231.64,382.47 C233.45,382.95 236.00,383.64 238.18,384.00 C240.36,384.36 242.55,384.47 244.73,384.65 C246.91,384.84 248.73,384.95 251.27,385.09 C253.82,385.24 258.55,385.45 260.00,385.53" fill="none" stroke="#d23ef2" stroke-width="1.30" stroke-linejoin="round" stroke-linecap="round"/>
<line x1="78.5" y1="226.0" x2="78.5" y2="383.0" stroke="#505050" stroke-width="1.25" stroke-dasharray="2.1,1.6"/>
<line x1="65.5" y1="242.5" x2="65.5" y2="372.0" stroke="#505050" stroke-width="1.25" stroke-dasharray="2.1,1.6"/>
<line x1="214.5" y1="294.9" x2="214.5" y2="388.4" stroke="#505050" stroke-width="1.25" stroke-dasharray="2.1,1.6"/>
<rect x="24.6" y="224.4" width="234.8" height="173.1" fill="none" stroke="#777" stroke-width="1"/>
<line x1="24.6" y1="397.5" x2="24.6" y2="400.7" stroke="#808080" stroke-width="1"/>
<text transform="translate(24.60,411.10) scale(1,1.000)" font-size="9.50" text-anchor="middle" stroke="#000" stroke-width="0.18" >1500</text>
<line x1="71.6" y1="397.5" x2="71.6" y2="400.7" stroke="#808080" stroke-width="1"/>
<text transform="translate(71.56,411.10) scale(1,1.000)" font-size="9.50" text-anchor="middle" stroke="#000" stroke-width="0.18" >1450</text>
<line x1="118.5" y1="397.5" x2="118.5" y2="400.7" stroke="#808080" stroke-width="1"/>
<text transform="translate(118.52,411.10) scale(1,1.000)" font-size="9.50" text-anchor="middle" stroke="#000" stroke-width="0.18" >1400</text>
<line x1="165.5" y1="397.5" x2="165.5" y2="400.7" stroke="#808080" stroke-width="1"/>
<text transform="translate(165.48,411.10) scale(1,1.000)" font-size="9.50" text-anchor="middle" stroke="#000" stroke-width="0.18" >1350</text>
<line x1="212.4" y1="397.5" x2="212.4" y2="400.7" stroke="#808080" stroke-width="1"/>
<text transform="translate(212.44,411.10) scale(1,1.000)" font-size="9.50" text-anchor="middle" stroke="#000" stroke-width="0.18" >1300</text>
<line x1="259.4" y1="397.5" x2="259.4" y2="400.7" stroke="#808080" stroke-width="1"/>
<text transform="translate(259.40,411.10) scale(1,1.000)" font-size="9.50" text-anchor="middle" stroke="#000" stroke-width="0.18" >1250</text>
<line x1="48.1" y1="397.5" x2="48.1" y2="399.5" stroke="#808080" stroke-width="1"/>
<line x1="95.0" y1="397.5" x2="95.0" y2="399.5" stroke="#808080" stroke-width="1"/>
<line x1="142.0" y1="397.5" x2="142.0" y2="399.5" stroke="#808080" stroke-width="1"/>
<line x1="189.0" y1="397.5" x2="189.0" y2="399.5" stroke="#808080" stroke-width="1"/>
<line x1="235.9" y1="397.5" x2="235.9" y2="399.5" stroke="#808080" stroke-width="1"/>
<text transform="translate(137.90,424.40) scale(1,1.000)" font-size="9.70" text-anchor="middle" stroke="#000" stroke-width="0.18" >Raman shift (cm<tspan font-size="6.3" dy="-3.7" stroke-width="0.4">&#8722;1</tspan><tspan dy="3.7" dx="0.4">)</tspan></text>
<text transform="translate(8.7,316.2) rotate(-90)" font-size="9.5" text-anchor="middle" dominant-baseline="central" fill="#222">Raman intensity (a.u.)</text>
<text transform="translate(28.80,238.50) scale(1,1.000)" font-size="13.00" text-anchor="start" stroke="#000" stroke-width="0.18" >(c)</text>
<text transform="translate(81.60,240.00) scale(1,1.120)" font-size="10.40" text-anchor="start" stroke="#000" stroke-width="0.18" >1443 cm<tspan font-size="6.5" dy="-3.03" stroke-width="0.4">&#8722;1</tspan></text>
<text transform="translate(24.30,255.00) scale(1,1.120)" font-size="10.40" text-anchor="start" stroke="#000" stroke-width="0.18" >1455 cm<tspan font-size="6.5" dy="-3.03" stroke-width="0.4">&#8722;1</tspan></text>
<text transform="translate(202.00,287.30) scale(1,1.120)" font-size="10.40" text-anchor="start" stroke="#000" stroke-width="0.18" >1295 cm<tspan font-size="6.5" dy="-3.03" stroke-width="0.4">&#8722;1</tspan></text>
<text transform="translate(240.40,312.30) scale(1,1.080)" font-size="10.50" text-anchor="start" stroke="#000" stroke-width="0.18" >a</text>
<text transform="translate(241.40,336.50) scale(1,1.080)" font-size="10.50" text-anchor="start" stroke="#000" stroke-width="0.18" >b</text>
<text transform="translate(241.40,350.20) scale(1,1.080)" font-size="10.50" text-anchor="start" stroke="#000" stroke-width="0.18" >c</text>
<text transform="translate(241.40,378.50) scale(1,1.080)" font-size="10.50" text-anchor="start" stroke="#000" stroke-width="0.18" >d</text>
<path d="M303.00,307.35 C303.73,307.27 305.91,307.16 307.36,306.91 C308.82,306.65 310.27,306.36 311.73,305.82 C313.18,305.27 314.64,304.36 316.09,303.64 C317.55,302.91 318.64,302.18 320.45,301.45 C322.27,300.73 324.82,300.00 327.00,299.27 C329.18,298.55 331.55,297.71 333.55,297.09 C335.55,296.47 337.18,296.04 339.00,295.56 C340.82,295.09 342.82,294.62 344.45,294.25 C346.09,293.89 347.55,294.00 348.82,293.38 C350.09,292.76 350.82,291.93 352.09,290.55 C353.36,289.16 355.00,286.80 356.45,285.09 C357.91,283.38 359.36,281.75 360.82,280.29 C362.27,278.84 363.73,277.38 365.18,276.36 C366.64,275.35 368.09,274.84 369.55,274.18 C371.00,273.53 372.45,272.87 373.91,272.44 C375.36,272.00 376.64,271.82 378.27,271.56 C379.91,271.31 382.09,271.20 383.73,270.91 C385.36,270.62 386.64,270.55 388.09,269.82 C389.55,269.09 391.00,267.64 392.45,266.55 C393.91,265.45 395.18,264.36 396.82,263.27 C398.45,262.18 400.64,261.27 402.27,260.00 C403.91,258.73 405.36,257.45 406.64,255.64 C407.91,253.82 408.82,251.64 409.91,249.09 C411.00,246.55 412.16,242.44 413.18,240.36 C414.20,238.29 415.11,237.02 416.02,236.65 C416.93,236.29 417.84,237.02 418.64,238.18 C419.44,239.35 420.23,241.82 420.82,243.64 C421.41,245.45 421.41,246.73 422.18,249.09 C422.95,251.45 424.36,255.53 425.45,257.82 C426.55,260.11 427.64,261.75 428.73,262.84 C429.82,263.93 430.91,264.22 432.00,264.36 C433.09,264.51 434.18,264.44 435.27,263.71 C436.36,262.98 437.45,261.71 438.55,260.00 C439.64,258.29 440.84,255.38 441.82,253.45 C442.80,251.53 443.53,249.53 444.44,248.44 C445.35,247.35 446.33,246.69 447.27,246.91 C448.22,247.13 449.20,248.11 450.11,249.75 C451.02,251.38 451.85,253.38 452.73,256.73 C453.60,260.07 454.44,265.09 455.35,269.82 C456.25,274.55 457.16,280.36 458.18,285.09 C459.20,289.82 460.36,294.98 461.45,298.18 C462.55,301.38 463.45,302.91 464.73,304.29 C466.00,305.67 467.45,305.85 469.09,306.47 C470.73,307.09 472.55,307.45 474.55,308.00 C476.55,308.55 478.91,309.27 481.09,309.75 C483.27,310.22 485.45,310.40 487.64,310.84 C489.82,311.27 492.00,312.11 494.18,312.36 C496.36,312.62 498.55,312.25 500.73,312.36 C502.91,312.47 505.09,313.02 507.27,313.02 C509.45,313.02 511.64,312.29 513.82,312.36 C516.00,312.44 518.18,313.45 520.36,313.45 C522.55,313.45 524.73,312.44 526.91,312.36 C529.09,312.29 531.27,313.02 533.45,313.02 C535.64,313.02 538.91,312.47 540.00,312.36" fill="none" stroke="#000" stroke-width="1.30" stroke-linejoin="round" stroke-linecap="round"/>
<path d="M303.00,322.91 C303.73,322.73 305.73,322.29 307.36,321.82 C309.00,321.35 311.00,320.73 312.82,320.07 C314.64,319.42 316.45,318.51 318.27,317.89 C320.09,317.27 321.91,316.80 323.73,316.36 C325.55,315.93 327.18,315.64 329.18,315.27 C331.18,314.91 333.73,314.55 335.73,314.18 C337.73,313.82 339.36,313.45 341.18,313.09 C343.00,312.73 345.18,312.55 346.64,312.00 C348.09,311.45 348.64,310.91 349.91,309.82 C351.18,308.73 352.64,307.58 354.27,305.45 C355.91,303.33 358.09,299.03 359.73,297.09 C361.36,295.15 362.64,294.55 364.09,293.82 C365.55,293.09 366.82,293.09 368.45,292.73 C370.09,292.36 372.09,292.00 373.91,291.64 C375.73,291.27 377.55,290.98 379.36,290.55 C381.18,290.11 383.18,289.75 384.82,289.02 C386.45,288.29 387.73,287.38 389.18,286.18 C390.64,284.98 392.09,283.27 393.55,281.82 C395.00,280.36 396.45,279.09 397.91,277.45 C399.36,275.82 401.00,274.00 402.27,272.00 C403.55,270.00 404.45,267.64 405.55,265.45 C406.64,263.27 407.73,260.55 408.82,258.91 C409.91,257.27 411.11,256.29 412.09,255.64 C413.07,254.98 413.80,254.80 414.71,254.98 C415.62,255.16 416.53,255.53 417.55,256.73 C418.56,257.93 419.97,260.36 420.82,262.18 C421.66,264.00 421.85,265.45 422.62,267.64 C423.39,269.82 424.44,273.09 425.45,275.27 C426.47,277.45 427.64,279.53 428.73,280.73 C429.82,281.93 430.91,282.40 432.00,282.47 C433.09,282.55 434.18,282.18 435.27,281.16 C436.36,280.15 437.45,278.25 438.55,276.36 C439.64,274.47 440.84,271.45 441.82,269.82 C442.80,268.18 443.71,267.27 444.44,266.55 C445.16,265.82 445.35,265.27 446.18,265.45 C447.02,265.64 448.44,266.00 449.45,267.64 C450.47,269.27 451.38,272.00 452.29,275.27 C453.20,278.55 454.04,283.09 454.91,287.27 C455.78,291.45 456.80,296.79 457.53,300.36 C458.25,303.94 458.62,306.06 459.27,308.73 C459.93,311.39 460.73,314.47 461.45,316.36 C462.18,318.25 462.73,319.09 463.64,320.07 C464.55,321.05 465.45,321.60 466.91,322.25 C468.36,322.91 470.36,323.53 472.36,324.00 C474.36,324.47 476.36,324.73 478.91,325.09 C481.45,325.45 484.73,325.82 487.64,326.18 C490.55,326.55 493.45,326.98 496.36,327.27 C499.27,327.56 502.18,327.75 505.09,327.93 C508.00,328.11 510.91,328.36 513.82,328.36 C516.73,328.36 519.64,328.11 522.55,327.93 C525.45,327.75 528.36,327.49 531.27,327.27 C534.18,327.05 538.55,326.73 540.00,326.62" fill="none" stroke="#ff0000" stroke-width="1.30" stroke-linejoin="round" stroke-linecap="round"/>
<path d="M303.00,349.09 C303.91,348.73 306.45,347.64 308.45,346.91 C310.45,346.18 312.82,345.35 315.00,344.73 C317.18,344.11 319.55,343.67 321.55,343.20 C323.55,342.73 325.18,342.36 327.00,341.89 C328.82,341.42 330.45,340.87 332.45,340.36 C334.45,339.85 336.82,339.45 339.00,338.84 C341.18,338.22 343.55,337.67 345.55,336.65 C347.55,335.64 349.18,334.11 351.00,332.73 C352.82,331.35 354.64,330.00 356.45,328.36 C358.27,326.73 360.27,324.29 361.91,322.91 C363.55,321.53 364.82,320.80 366.27,320.07 C367.73,319.35 369.00,318.87 370.64,318.55 C372.27,318.22 374.45,318.11 376.09,318.11 C377.73,318.11 378.82,318.73 380.45,318.55 C382.09,318.36 384.09,317.64 385.91,317.02 C387.73,316.40 389.73,315.67 391.36,314.84 C393.00,314.00 394.27,313.02 395.73,312.00 C397.18,310.98 398.82,310.67 400.09,308.73 C401.36,306.79 402.09,302.56 403.36,300.36 C404.64,298.17 406.45,296.84 407.73,295.56 C409.00,294.29 409.98,293.27 411.00,292.73 C412.02,292.18 412.93,292.18 413.84,292.29 C414.75,292.40 415.47,292.76 416.45,293.38 C417.44,294.00 418.59,295.02 419.73,296.00 C420.86,296.98 422.14,297.75 423.27,299.27 C424.41,300.80 425.45,303.60 426.55,305.16 C427.64,306.73 428.91,308.00 429.82,308.65 C430.73,309.31 431.09,309.38 432.00,309.09 C432.91,308.80 434.18,307.82 435.27,306.91 C436.36,306.00 437.45,304.55 438.55,303.64 C439.64,302.73 440.84,301.93 441.82,301.45 C442.80,300.98 443.53,300.62 444.44,300.80 C445.35,300.98 446.29,301.38 447.27,302.55 C448.25,303.72 449.24,305.70 450.33,307.82 C451.42,309.94 452.69,312.21 453.82,315.27 C454.95,318.33 456.00,322.55 457.09,326.18 C458.18,329.82 459.27,334.00 460.36,337.09 C461.45,340.18 462.55,342.91 463.64,344.73 C464.73,346.55 465.45,347.16 466.91,348.00 C468.36,348.84 470.00,349.31 472.36,349.75 C474.73,350.18 478.18,350.36 481.09,350.62 C484.00,350.87 486.91,351.05 489.82,351.27 C492.73,351.49 495.64,351.75 498.55,351.93 C501.45,352.11 504.36,352.22 507.27,352.36 C510.18,352.51 513.09,352.62 516.00,352.80 C518.91,352.98 521.82,353.31 524.73,353.45 C527.64,353.60 530.91,353.67 533.45,353.67 C536.00,353.67 538.91,353.49 540.00,353.45" fill="none" stroke="#0000ff" stroke-width="1.30" stroke-linejoin="round" stroke-linecap="round"/>
<path d="M303.00,373.75 C303.91,373.45 306.64,372.73 308.45,372.00 C310.27,371.27 312.09,370.40 313.91,369.38 C315.73,368.36 317.55,366.98 319.36,365.89 C321.18,364.80 322.82,363.75 324.82,362.84 C326.82,361.93 329.18,361.16 331.36,360.44 C333.55,359.71 335.73,359.16 337.91,358.47 C340.09,357.78 342.45,357.31 344.45,356.29 C346.45,355.27 348.09,353.82 349.91,352.36 C351.73,350.91 353.55,349.31 355.36,347.56 C357.18,345.82 359.00,343.71 360.82,341.89 C362.64,340.07 364.45,338.18 366.27,336.65 C368.09,335.13 369.91,333.67 371.73,332.73 C373.55,331.78 375.18,331.53 377.18,330.98 C379.18,330.44 381.55,330.07 383.73,329.45 C385.91,328.84 388.27,328.00 390.27,327.27 C392.27,326.55 393.91,325.82 395.73,325.09 C397.55,324.36 399.73,323.38 401.18,322.91 C402.64,322.44 403.18,322.25 404.45,322.25 C405.73,322.25 407.55,322.55 408.82,322.91 C410.09,323.27 411.00,323.71 412.09,324.44 C413.18,325.16 413.50,325.89 415.36,327.27 C417.23,328.65 421.41,331.53 423.27,332.73 C425.14,333.93 425.45,334.04 426.55,334.47 C427.64,334.91 428.73,335.35 429.82,335.35 C430.91,335.35 431.82,334.73 433.09,334.47 C434.36,334.22 436.00,333.67 437.45,333.82 C438.91,333.96 440.55,334.87 441.82,335.35 C443.09,335.82 444.00,335.82 445.09,336.65 C446.18,337.49 447.27,338.84 448.36,340.36 C449.45,341.89 450.55,343.64 451.64,345.82 C452.73,348.00 453.64,350.55 454.91,353.45 C456.18,356.36 457.82,360.18 459.27,363.27 C460.73,366.36 462.18,369.64 463.64,372.00 C465.09,374.36 466.55,376.36 468.00,377.45 C469.45,378.55 470.55,378.36 472.36,378.55 C474.18,378.73 476.36,378.36 478.91,378.55 C481.45,378.73 484.73,379.35 487.64,379.64 C490.55,379.93 493.09,380.04 496.36,380.29 C499.64,380.55 504.00,380.91 507.27,381.16 C510.55,381.42 513.09,381.71 516.00,381.82 C518.91,381.93 521.82,381.89 524.73,381.82 C527.64,381.75 530.91,381.56 533.45,381.38 C536.00,381.20 538.91,380.84 540.00,380.73" fill="none" stroke="#d23ef2" stroke-width="1.30" stroke-linejoin="round" stroke-linecap="round"/>
<line x1="414.5" y1="226.0" x2="414.5" y2="342.5" stroke="#505050" stroke-width="1.25" stroke-dasharray="2.1,1.6"/>
<line x1="444.5" y1="236.0" x2="444.5" y2="352.0" stroke="#505050" stroke-width="1.25" stroke-dasharray="2.1,1.6"/>
<rect x="304.0" y="224.7" width="236.7" height="173.3" fill="none" stroke="#777" stroke-width="1"/>
<line x1="304.0" y1="398.0" x2="304.0" y2="401.2" stroke="#808080" stroke-width="1"/>
<text transform="translate(304.00,411.10) scale(1,1.000)" font-size="9.50" text-anchor="middle" stroke="#000" stroke-width="0.18" >3000</text>
<line x1="375.0" y1="398.0" x2="375.0" y2="401.2" stroke="#808080" stroke-width="1"/>
<text transform="translate(375.01,411.10) scale(1,1.000)" font-size="9.50" text-anchor="middle" stroke="#000" stroke-width="0.18" >2925</text>
<line x1="446.0" y1="398.0" x2="446.0" y2="401.2" stroke="#808080" stroke-width="1"/>
<text transform="translate(446.02,411.10) scale(1,1.000)" font-size="9.50" text-anchor="middle" stroke="#000" stroke-width="0.18" >2850</text>
<line x1="517.0" y1="398.0" x2="517.0" y2="401.2" stroke="#808080" stroke-width="1"/>
<text transform="translate(517.03,411.10) scale(1,1.000)" font-size="9.50" text-anchor="middle" stroke="#000" stroke-width="0.18" >2775</text>
<line x1="339.5" y1="398.0" x2="339.5" y2="400.0" stroke="#808080" stroke-width="1"/>
<line x1="410.5" y1="398.0" x2="410.5" y2="400.0" stroke="#808080" stroke-width="1"/>
<line x1="481.5" y1="398.0" x2="481.5" y2="400.0" stroke="#808080" stroke-width="1"/>
<text transform="translate(417.30,423.80) scale(1,1.000)" font-size="9.70" text-anchor="middle" stroke="#000" stroke-width="0.18" >Raman shift (cm<tspan font-size="6.3" dy="-3.7" stroke-width="0.4">&#8722;1</tspan><tspan dy="3.7" dx="0.4">)</tspan></text>
<text transform="translate(289.4,315.3) rotate(-90)" font-size="9.5" text-anchor="middle" dominant-baseline="central" fill="#222">Raman intensity (a.u.)</text>
<text transform="translate(309.50,239.50) scale(1,1.000)" font-size="13.00" text-anchor="start" stroke="#000" stroke-width="0.18" >(d)</text>
<text transform="translate(370.20,241.30) scale(1,1.120)" font-size="10.40" text-anchor="start" stroke="#000" stroke-width="0.18" >2882 cm<tspan font-size="6.5" dy="-3.03" stroke-width="0.4">&#8722;1</tspan></text>
<text transform="translate(448.20,240.00) scale(1,1.120)" font-size="10.40" text-anchor="start" stroke="#000" stroke-width="0.18" >2849 cm<tspan font-size="6.5" dy="-3.03" stroke-width="0.4">&#8722;1</tspan></text>
<text transform="translate(518.50,307.50) scale(1,1.080)" font-size="10.50" text-anchor="start" stroke="#000" stroke-width="0.18" >a</text>
<text transform="translate(520.40,326.80) scale(1,1.080)" font-size="10.50" text-anchor="start" stroke="#000" stroke-width="0.18" >b</text>
<text transform="translate(520.40,346.20) scale(1,1.080)" font-size="10.50" text-anchor="start" stroke="#000" stroke-width="0.18" >c</text>
<text transform="translate(520.40,373.00) scale(1,1.080)" font-size="10.50" text-anchor="start" stroke="#000" stroke-width="0.18" >d</text>
</svg>
</body></html>
